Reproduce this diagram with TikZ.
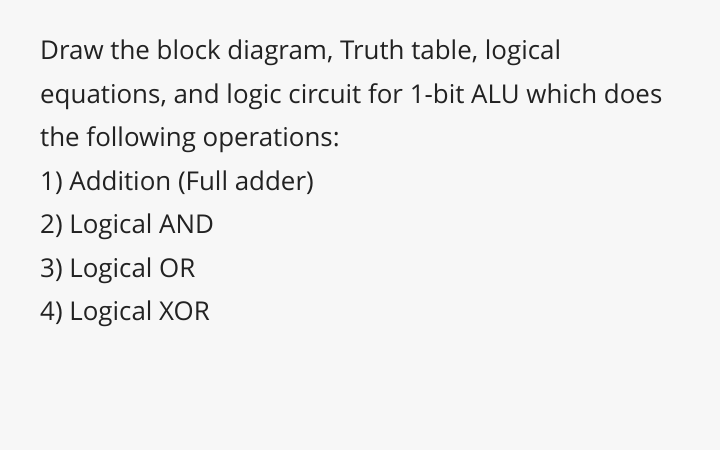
\documentclass[tikz,border=0pt]{standalone}
\usepackage{fontspec}
\setmainfont{Open Sans}
\definecolor{bg}{HTML}{F7F7F7}
\definecolor{txt}{HTML}{222222}
\begin{document}
\begin{tikzpicture}[x=1pt,y=1pt,line/.style={anchor=base west,inner sep=0pt,text=txt,font=\fontsize{25.9}{30}\selectfont}]
\fill[bg] (0,0) rectangle (720,-450);
\useasboundingbox (0,0) rectangle (720,-450);
\node[line] (l1) at (40,-59) {Draw the block diagram, Truth table, logical};
\node[line] (l2) at (40,-103) {equations, and logic circuit for 1-bit ALU which does};
\node[line] (l3) at (40,-146) {the following operations:};
\node[line] (l4) at (40,-190) {1) Addition (Full adder)};
\node[line] (l5) at (40,-233) {2) Logical AND};
\node[line] (l6) at (40,-277) {3) Logical OR};
\node[line] (l7) at (40,-320) {4) Logical XOR};
\end{tikzpicture}
\end{document}
